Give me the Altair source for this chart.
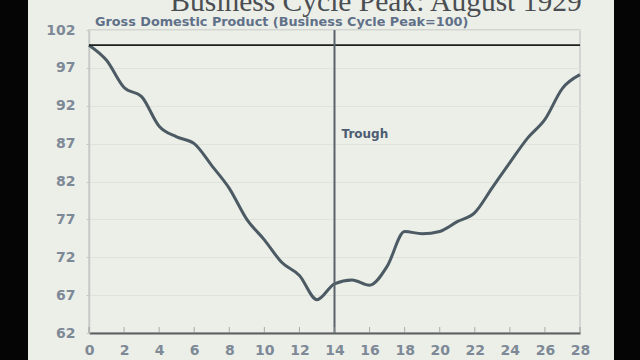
import altair as alt
import pandas as pd

months = list(range(0, 29))
gdp = [100, 98.0, 94.4, 93.2, 89.3, 87.9, 87.0, 84.1, 81.1, 77.0, 74.3, 71.3,
       69.6, 66.4, 68.5, 69.0, 68.3, 70.8, 75.4, 75.1, 75.4, 76.7, 77.9, 81.2,
       84.5, 87.7, 90.2, 94.3, 96.1]
peak_level = [100]
trough_month = [14]
x_ticks = list(range(0, 29, 2))
y_ticks = list(range(62, 103, 5))

title_text = "Business Cycle Peak: August 1929"
subtitle_text = "Gross Domestic Product (Business Cycle Peak=100)"
trough_label = "Trough"

BG = "#eceee8"
LABEL = "#7d8996"
FONT = "DejaVu Sans"

df = pd.DataFrame({"month": months, "gdp": gdp})
peak_df = pd.DataFrame({"level": peak_level})
trough_df = pd.DataFrame({"month": trough_month, "label": [trough_label], "ypos": [88.3], "xpos": [14.4]})
tick_df = pd.DataFrame({"month": x_ticks, "base": [62] * len(x_ticks)})
one = pd.DataFrame({"a": [0]})

xscale = alt.Scale(domain=[0, 28], nice=False, zero=False)
yscale = alt.Scale(domain=[62, 102], nice=False, zero=False)

xaxis = alt.Axis(values=x_ticks, title=None, labelFont=FONT, labelFontSize=14,
                 labelFontWeight="bold", labelColor=LABEL, labelPadding=10,
                 domainColor="#5a5f60", domainWidth=2, ticks=False, grid=False,
                 labelFlush=False, labelOverlap=False)
yaxis = alt.Axis(values=y_ticks, title=None, labelFont=FONT, labelFontSize=14,
                 labelFontWeight="bold", labelColor=LABEL, labelPadding=11,
                 domainColor="#c6cac6", domainWidth=1.5, tickSize=3, tickColor="#c6cac6",
                 grid=True, gridColor="#e0e2dc", gridWidth=1, labelOverlap=False)

line = alt.Chart(df).mark_line(color="#4b5a63", strokeWidth=3, interpolate="monotone").encode(
    x=alt.X("month:Q", scale=xscale, axis=xaxis),
    y=alt.Y("gdp:Q", scale=yscale, axis=yaxis),
)

peak = alt.Chart(peak_df).mark_rule(color="#1e1e1e", strokeWidth=1.6).encode(
    y=alt.Y("level:Q", scale=yscale, axis=yaxis)
)

trough = alt.Chart(trough_df).mark_rule(color="#59636b", strokeWidth=2).encode(
    x=alt.X("month:Q", scale=xscale, axis=xaxis)
)

trough_text = alt.Chart(trough_df).mark_text(
    align="left", baseline="middle", font=FONT, fontSize=12, fontWeight="bold", color="#4d5c72"
).encode(
    x=alt.X("xpos:Q", scale=xscale, axis=xaxis),
    y=alt.Y("ypos:Q", scale=yscale, axis=yaxis),
    text="label:N",
)

ticks = alt.Chart(tick_df).mark_tick(orient="vertical", size=6, thickness=1, color="#8a9090", yOffset=-3).encode(
    x=alt.X("month:Q", scale=xscale, axis=xaxis),
    y=alt.Y("base:Q", scale=yscale, axis=yaxis),
)

title = alt.Chart(one).mark_text(
    align="center", baseline="alphabetic", font="Liberation Serif", fontSize=29.5, color="#4a4e52"
).encode(x=alt.value(287), y=alt.value(-19), text=alt.value(title_text))

subtitle = alt.Chart(one).mark_text(
    align="left", baseline="middle", font=FONT, fontSize=12.8, fontWeight="bold", color="#5f7188"
).encode(x=alt.value(6), y=alt.value(-8), text=alt.value(subtitle_text))

left_bar = alt.Chart(one).mark_rect(color="#050505").encode(
    x=alt.value(-89), x2=alt.value(-61), y=alt.value(-30), y2=alt.value(330)
)
right_bar = alt.Chart(one).mark_rect(color="#050505").encode(
    x=alt.value(525), x2=alt.value(551), y=alt.value(-30), y2=alt.value(330)
)

chart = alt.layer(line, peak, trough, trough_text, ticks, title, subtitle, left_bar, right_bar).properties(
    width=491, height=303,
    autosize=alt.AutoSizeParams(type="none"),
    padding={"left": 89, "top": 30, "right": 60, "bottom": 27},
    background=BG,
).configure_view(stroke="#c9cdc9", strokeWidth=1.5).configure_axis(labelOverlap=False)

chart.save("out.html", embed_options={"renderer": "svg", "actions": False})
